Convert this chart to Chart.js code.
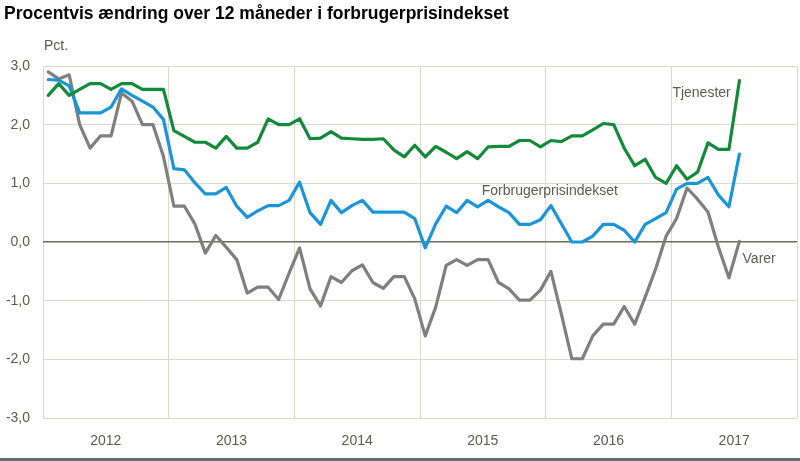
<!DOCTYPE html>
<html>
<head>
<meta charset="utf-8">
<script src="https://cdn.jsdelivr.net/npm/chart.js@4/dist/chart.umd.min.js"></script>
<style>
  html, body { margin: 0; padding: 0; background: #fff; }
  #wrap { position: relative; width: 800px; height: 461px; }
</style>
</head>
<body>
<div id="wrap"><canvas id="cpiChart" width="800" height="461"></canvas></div>
<script>
// years shown on the x axis (each year = 12 monthly slots)
const years = ['2012', '2013', '2014', '2015', '2016', '2017'];

// monthly 12-month change in pct, Jan 2012 onwards
const tjenester = [2.5, 2.7, 2.5, 2.6, 2.7, 2.7, 2.6, 2.7, 2.7, 2.6, 2.6, 2.6,
  1.9, 1.8, 1.7, 1.7, 1.6, 1.8, 1.6, 1.6, 1.7, 2.1, 2.0, 2.0,
  2.1, 1.76, 1.77, 1.88, 1.77, 1.76, 1.75, 1.75, 1.76, 1.57, 1.45, 1.65,
  1.45, 1.63, 1.53, 1.42, 1.54, 1.42, 1.62, 1.63, 1.63, 1.73, 1.73, 1.62,
  1.73, 1.71, 1.81, 1.81, 1.91, 2.02, 2.0, 1.6, 1.3, 1.41, 1.1, 1.0,
  1.3, 1.07, 1.19, 1.69, 1.58, 1.58, 2.75];

const forbrugerpris = [2.77, 2.76, 2.66, 2.2, 2.2, 2.2, 2.3, 2.61, 2.5, 2.4, 2.3, 2.09,
  1.25, 1.23, 1.01, 0.82, 0.82, 0.93, 0.61, 0.42, 0.53, 0.62, 0.62, 0.71,
  1.02, 0.5, 0.3, 0.71, 0.5, 0.62, 0.71, 0.51, 0.51, 0.51, 0.51, 0.4,
  -0.1, 0.31, 0.61, 0.5, 0.71, 0.6, 0.71, 0.6, 0.5, 0.3, 0.3, 0.38,
  0.62, 0.31, 0.0, 0.0, 0.1, 0.3, 0.3, 0.2, 0.0, 0.3, 0.4, 0.5,
  0.9, 1.0, 1.0, 1.1, 0.8, 0.6, 1.5];

const varer = [2.9, 2.78, 2.85, 2.0, 1.6, 1.81, 1.81, 2.54, 2.4, 2.0, 2.0, 1.46,
  0.61, 0.61, 0.31, -0.19, 0.11, -0.09, -0.3, -0.87, -0.77, -0.77, -0.98, -0.53,
  -0.1, -0.8, -1.09, -0.59, -0.69, -0.49, -0.39, -0.69, -0.79, -0.59, -0.59, -0.97,
  -1.6, -1.11, -0.4, -0.3, -0.4, -0.3, -0.3, -0.69, -0.8, -0.99, -0.99, -0.82,
  -0.5, -1.23, -1.99, -1.99, -1.6, -1.4, -1.4, -1.1, -1.4, -0.94, -0.46, 0.1,
  0.4, 0.92, 0.73, 0.51, -0.09, -0.61, 0.01];

// series name labels drawn inside the plot: [text, month position, value]
const seriesLabels = [
  ['Tjenester', 60.1, 2.53],
  ['Forbrugerprisindekset', 41.9, 0.87],
  ['Varer', 66.8, -0.30]
];

const FONT = '"Liberation Sans", Arial, sans-serif';
const TEXT_GREY = '#5b5b52';

// each month sits in the middle of its slot
function toPoints(values) {
  return values.map((v, i) => ({ x: i + 0.5, y: v }));
}

// title, "Pct." and the inline series labels, plus the footer rule
const textPlugin = {
  id: 'textPlugin',
  afterDraw(chart) {
    const { ctx, chartArea, scales } = chart;
    ctx.save();
    ctx.fillStyle = '#000';
    ctx.font = 'bold 17.5px ' + FONT;
    ctx.textBaseline = 'alphabetic';
    ctx.textAlign = 'left';
    ctx.fillText('Procentvis ændring over 12 måneder i forbrugerprisindekset', 4, 19);

    ctx.fillStyle = TEXT_GREY;
    ctx.font = '14px ' + FONT;
    ctx.fillText('Pct.', chartArea.left + 1, chartArea.top - 16);

    ctx.textBaseline = 'middle';
    seriesLabels.forEach(([txt, m, v]) => {
      ctx.fillText(txt, scales.x.getPixelForValue(m), scales.y.getPixelForValue(v));
    });

    ctx.fillStyle = '#5d6d7b';
    ctx.fillRect(0, 458, chart.width, 3);
    ctx.restore();
  }
};

const ctx = document.getElementById('cpiChart').getContext('2d');
new Chart(ctx, {
  type: 'line',
  data: {
    datasets: [
      { label: 'Tjenester', data: toPoints(tjenester), borderColor: '#138a3a', order: 0 },
      { label: 'Forbrugerprisindekset', data: toPoints(forbrugerpris), borderColor: '#1a95d6', order: 1 },
      { label: 'Varer', data: toPoints(varer), borderColor: '#7f7f7f', order: 2 }
    ]
  },
  options: {
    responsive: false,
    animation: false,
    devicePixelRatio: 1,
    layout: { padding: { top: 66, right: 3, left: 0, bottom: 0 } },
    elements: {
      line: { borderWidth: 3.2, tension: 0, borderCapStyle: 'round', borderJoinStyle: 'round' },
      point: { radius: 0 }
    },
    plugins: {
      legend: { display: false },
      tooltip: { enabled: false }
    },
    scales: {
      x: {
        type: 'linear',
        min: 0,
        max: years.length * 12,
        afterBuildTicks(scale) {
          const t = [];
          for (let v = 0; v <= years.length * 12; v += 6) t.push({ value: v });
          scale.ticks = t;
        },
        afterFit(scale) {
          scale.height = 43;
          scale.paddingLeft = 0;
          scale.paddingRight = 0;
        },
        grid: {
          drawTicks: false,
          color: c => (c.tick && c.tick.value % 12 === 0) ? '#d9d9d1' : 'rgba(0,0,0,0)',
          lineWidth: 1
        },
        border: { display: false },
        ticks: {
          autoSkip: false,
          maxRotation: 0,
          padding: 15,
          color: TEXT_GREY,
          font: { family: FONT, size: 14 },
          callback: v => (v % 12 === 6) ? years[(v - 6) / 12] : ''
        }
      },
      y: {
        min: -3,
        max: 3,
        afterFit(scale) { scale.width = 43; },
        grid: {
          drawTicks: false,
          color: c => (c.tick && c.tick.value === 0) ? '#6b6b63' : '#d9d9d1',
          lineWidth: c => (c.tick && c.tick.value === 0) ? 1.5 : 1
        },
        border: { display: false },
        ticks: {
          stepSize: 1,
          padding: 13,
          color: TEXT_GREY,
          font: { family: FONT, size: 14 },
          callback: v => v.toFixed(1).replace('.', ',')
        }
      }
    }
  },
  plugins: [textPlugin]
});
</script>
</body>
</html>
